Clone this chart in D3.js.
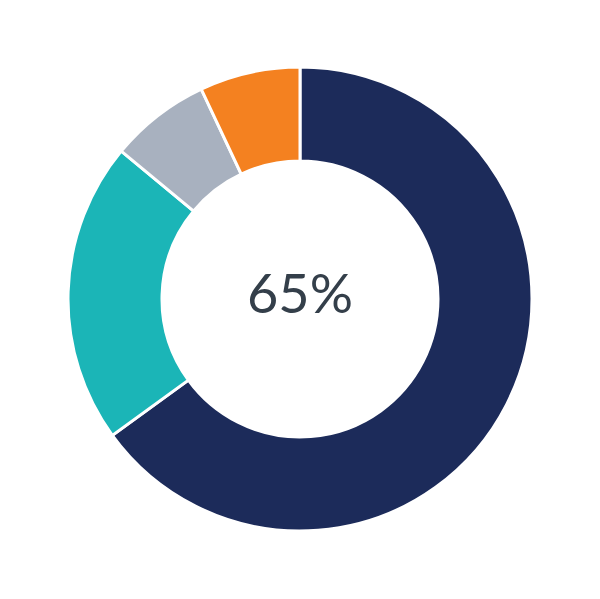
<!DOCTYPE html>
<html>
<head>
<meta charset="utf-8">
<script src="https://cdn.jsdelivr.net/npm/d3@7"></script>
<style>
  html, body { margin: 0; padding: 0; background: #fff; }
</style>
</head>
<body>
<svg id="chart"></svg>
<script>
const categories = ["A", "B", "C", "D"];
const values = [65, 21, 7, 7];
const colors = ["#1c2b5a", "#1bb5b7", "#a8b1bf", "#f48120"];
const centerLabel = "65%";

const width = 600;
const height = 599;
const cx = 300;
const cy = 299;
const outerR = 232;
const innerR = 138;

const svg = d3.select("#chart")
    .attr("width", width)
    .attr("height", height);

const pie = d3.pie()
    .sort(null)
    .value(d => d.value);

const arc = d3.arc()
    .innerRadius(innerR)
    .outerRadius(outerR);

const data = categories.map((c, i) => ({ name: c, value: values[i], color: colors[i] }));

const g = svg.append("g")
    .attr("transform", `translate(${cx},${cy})`);

g.selectAll("path")
    .data(pie(data))
    .join("path")
    .attr("d", arc)
    .attr("fill", d => d.data.color)
    .attr("stroke", "#fff")
    .attr("stroke-width", 3)
    .attr("stroke-linejoin", "miter");

g.append("text")
    .attr("text-anchor", "middle")
    .attr("dy", "0.36em")
    .attr("y", -5)
    .style("font-family", "Lato, sans-serif")
    .style("font-weight", 400)
    .style("font-size", "54px")
    .attr("fill", "#343f4a")
    .text(centerLabel);
</script>
</body>
</html>
